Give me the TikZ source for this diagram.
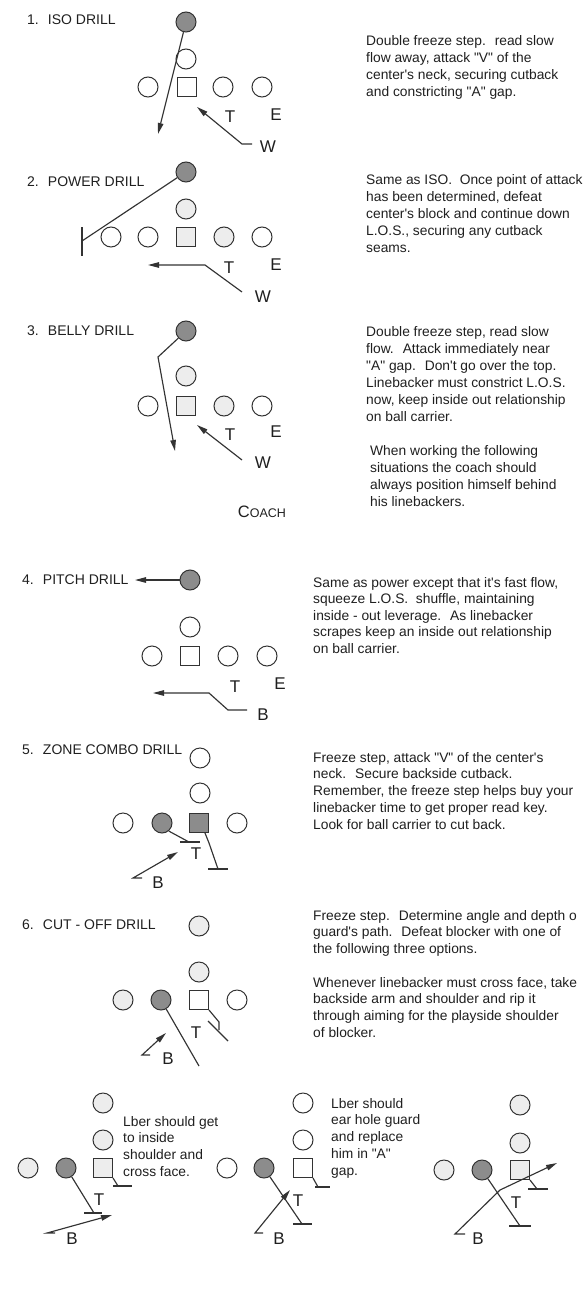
\documentclass[tikz,border=0pt]{standalone}
\usepackage{fontspec}
\setmainfont{Liberation Sans}[Ligatures=TeXOff]
\usetikzlibrary{arrows.meta}
\definecolor{ink}{gray}{0.2}
\definecolor{txt}{gray}{0.12}
\definecolor{shade}{gray}{0.55}
\definecolor{light}{gray}{0.93}
\begin{document}
\begin{tikzpicture}[x=1pt,y=-1pt,
  pl/.style={circle,draw=ink,line width=1pt,minimum size=20pt,inner sep=0pt,fill=white},
  pls/.style={pl,fill=shade},
  pll/.style={pl,fill=light},
  sq/.style={rectangle,draw=ink,line width=1pt,minimum size=19pt,inner sep=0pt,fill=white},
  sql/.style={sq,fill=light},
  sqs/.style={sq,fill=shade},
  route/.style={draw=ink,line width=1.15pt},
  arr/.style={-{Triangle[length=11pt,width=5.5pt]}},
  lbl/.style={font=\fontsize{17}{17}\selectfont,text=txt,inner sep=0pt},
  head/.style={font=\fontsize{14}{17}\selectfont,text=txt,anchor=west,inner sep=0pt},
  para/.style={font=\fontsize{13.8}{17}\selectfont,text=txt,anchor=north west,inner sep=0pt,align=left},
  parb/.style={para,font=\fontsize{13.8}{16.5}\selectfont},
  parc/.style={para,font=\fontsize{13.8}{16.7}\selectfont}
]
\useasboundingbox (0,0) rectangle (586,1300);

% ---------------- 1. ISO DRILL
\node[head] (h1) at (27,20) {1.~ ISO DRILL};
\node[pls] (d1b) at (186,22) {};
\node[pl] (d1q) at (186,59) {};
\node[pl] (d1g) at (148,87) {};
\node[sq] (d1c) at (187,87) {};
\node[pl] (d1t) at (223,87) {};
\node[pl] (d1e) at (262,87) {};
\node[lbl] (d1T) at (230,117) {T};
\node[lbl] (d1E) at (276,115) {E};
\node[lbl] (d1W) at (268,147) {W};
\coordinate (d1a) at (158,134);
\draw[route,arr] (d1b.-104) -- (d1a);
\coordinate (d1w1) at (252,144);
\coordinate (d1w2) at (242,144);
\coordinate (d1w3) at (197,107);
\draw[route,arr] (d1w1) -- (d1w2) -- (d1w3);
\node[para] (p1) at (366,35) {Double freeze step.~ read slow\\flow away, attack "V" of the\\center's neck, securing cutback\\and constricting "A" gap.};

% ---------------- 2. POWER DRILL
\node[head] (h2) at (27,182) {2.~ POWER DRILL};
\node[pls] (d2b) at (186,172) {};
\node[pll] (d2q) at (186,209) {};
\node[pl] (d2a1) at (111,237) {};
\node[pl] (d2g) at (148,237) {};
\node[sql] (d2c) at (186,237) {};
\node[pll] (d2t) at (224,237) {};
\node[pl] (d2e) at (262,237) {};
\coordinate (d2end) at (82,241);
\coordinate (d2bar1) at (82,227);
\coordinate (d2bar2) at (82,256);
\draw[route] (d2b.-147) -- (d2end);
\draw[route] (d2bar1) -- (d2bar2);
\node[lbl] (d2T) at (229,268) {T};
\node[lbl] (d2E) at (276,265) {E};
\node[lbl] (d2W) at (263,297) {W};
\coordinate (d2w1) at (242,292);
\coordinate (d2w2) at (205,265);
\coordinate (d2w3) at (148,265);
\draw[route,arr] (d2w1) -- (d2w2) -- (d2w3);
\node[para] (p2) at (366,174) {Same as ISO.~ Once point of attack\\has been determined, defeat\\center's block and continue down\\L.O.S., securing any cutback\\seams.};

% ---------------- 3. BELLY DRILL
\node[head] (h3) at (27,331) {3.~ BELLY DRILL};
\node[pls] (d3b) at (186,331) {};
\node[pll] (d3q) at (186,376) {};
\node[pl] (d3g) at (148,406) {};
\node[sql] (d3c) at (186,406) {};
\node[pll] (d3t) at (224,406) {};
\node[pl] (d3e) at (262,406) {};
\coordinate (d3m) at (158,357);
\coordinate (d3a) at (175,451);
\draw[route,arr] (d3b.-137) -- (d3m) -- (d3a);
\node[lbl] (d3T) at (230,435) {T};
\node[lbl] (d3E) at (276,432) {E};
\node[lbl] (d3W) at (263,463) {W};
\coordinate (d3w1) at (242,460);
\coordinate (d3w2) at (197,425);
\draw[route,arr] (d3w1) -- (d3w2);
\node[para] (p3) at (366,326) {Double freeze step, read slow\\flow.~ Attack immediately near\\"A" gap.~ Don't go over the top.\\Linebacker must constrict L.O.S.\\now, keep inside out relationship\\on ball carrier.};
\node[text=txt,inner sep=0pt] (coach) at (262,512) {{\fontsize{16.5}{17}\selectfont C}{\fontsize{12.5}{17}\selectfont OACH}};
\node[para] (pc) at (370,445) {When working the following\\situations the coach should\\always position himself behind\\his linebackers.};

% ---------------- 4. PITCH DRILL
\node[head] (h4) at (22,580) {4.~ PITCH DRILL};
\node[pls] (d4b) at (190,580) {};
\coordinate (d4a) at (135,580);
\draw[route,arr] (d4b.west) -- (d4a);
\node[pl] (d4q) at (190,627) {};
\node[pl] (d4g) at (152,656) {};
\node[sq] (d4c) at (190,656) {};
\node[pl] (d4t) at (228,656) {};
\node[pl] (d4e) at (267,656) {};
\node[lbl] (d4T) at (235,687) {T};
\node[lbl] (d4E) at (280,684) {E};
\node[lbl] (d4B) at (263,715) {B};
\coordinate (d4w1) at (247,710);
\coordinate (d4w2) at (228,710);
\coordinate (d4w3) at (209,693);
\coordinate (d4w4) at (153,693);
\draw[route,arr] (d4w1) -- (d4w2) -- (d4w3) -- (d4w4);
\node[parb] (p4) at (313,577) {Same as power except that it's fast flow,\\squeeze L.O.S.~ shuffle, maintaining\\inside - out leverage.~ As linebacker\\scrapes keep an inside out relationship\\on ball carrier.};

% ---------------- 5. ZONE COMBO DRILL
\node[head] (h5) at (22,750) {5.~ ZONE COMBO DRILL};
\node[pl] (d5q1) at (200,758) {};
\node[pl] (d5q2) at (200,793) {};
\node[pl] (d5a) at (123,823) {};
\node[pls] (d5g) at (162,823) {};
\node[sqs] (d5c) at (199,823) {};
\node[pl] (d5t) at (237,823) {};
\node[lbl] (d5T) at (196,854) {T};
\node[lbl] (d5B) at (158,883) {B};
\coordinate (d5ge) at (189,842);
\coordinate (d5gb1) at (180,842);
\coordinate (d5gb2) at (200,842);
\draw[route] (d5g.-50) -- (d5ge);
\draw[route] (d5gb1) -- (d5gb2);
\coordinate (d5cm) at (209,843);
\coordinate (d5ce) at (218,869);
\coordinate (d5cb1) at (208,869);
\coordinate (d5cb2) at (228,869);
\draw[route] ([xshift=-4pt]d5c.south east) -- (d5cm) -- (d5ce);
\draw[route] (d5cb1) -- (d5cb2);
\coordinate (d5w1) at (142,878);
\coordinate (d5w2) at (133,878);
\coordinate (d5w3) at (178,852);
\draw[route,arr] (d5w1) -- (d5w2) -- (d5w3);
\node[parc] (p5) at (313,752) {Freeze step, attack "V" of the center's\\neck.~ Secure backside cutback.\\Remember, the freeze step helps buy your\\linebacker time to get proper read key.\\Look for ball carrier to cut back.};

% ---------------- 6. CUT - OFF DRILL
\node[head] (h6) at (22,925) {6.~ CUT - OFF DRILL};
\node[pll] (d6q1) at (199,926) {};
\node[pll] (d6q2) at (199,972) {};
\node[pll] (d6a) at (123,1000) {};
\node[pls] (d6g) at (161,1000) {};
\node[sq] (d6c) at (199,1000) {};
\node[pl] (d6t) at (237,1000) {};
\node[lbl] (d6T) at (196,1033) {T};
\node[lbl] (d6B) at (168,1059) {B};
\coordinate (d6ge) at (199,1066);
\draw[route] (d6g.-60) -- (d6ge);
\coordinate (d6cm) at (219,1022);
\coordinate (d6ce) at (219,1030);
\draw[route] (d6c.south east) -- (d6cm) -- (d6ce);
\coordinate (d6l1) at (208,1021);
\coordinate (d6l2) at (228,1041);
\draw[route] (d6l1) -- (d6l2);
\coordinate (d6w1) at (150,1055);
\coordinate (d6w2) at (142,1055);
\coordinate (d6w3) at (166,1033);
\draw[route,arr] (d6w1) -- (d6w2) -- (d6w3);
\node[parc] (p6) at (313,910) {Freeze step.~ Determine angle and depth o\\guard's path.~ Defeat blocker with one of\\the following three options.\\[16.7pt]Whenever linebacker must cross face, take\\backside arm and shoulder and rip it\\through aiming for the playside shoulder\\of blocker.};

% ---------------- bottom left
\node[pll] (d7q1) at (103,1103) {};
\node[pll] (d7q2) at (103,1140) {};
\node[pll] (d7a) at (28,1168) {};
\node[pls] (d7g) at (66,1168) {};
\node[sql] (d7c) at (103,1168) {};
\node[lbl] (d7T) at (99,1200) {T};
\node[lbl] (d7B) at (72,1239) {B};
\coordinate (d7ge) at (94,1213);
\coordinate (d7gb1) at (84,1213);
\coordinate (d7gb2) at (102,1213);
\draw[route] (d7g.-57) -- (d7ge);
\draw[route] (d7gb1) -- (d7gb2);
\coordinate (d7ce) at (118,1186);
\coordinate (d7cb1) at (113,1186);
\coordinate (d7cb2) at (132,1186);
\draw[route] (d7c.south east) -- (d7ce);
\draw[route] (d7cb1) -- (d7cb2);
\coordinate (d7w1) at (55,1233);
\coordinate (d7w2) at (47,1233);
\coordinate (d7w3) at (112,1215);
\draw[route,arr] (d7w1) -- (d7w2) -- (d7w3);
\node[parc] (p7) at (123,1116) {Lber should get\\to inside\\shoulder and\\cross face.};

% ---------------- bottom middle
\node[pl] (d8q1) at (303,1103) {};
\node[pl] (d8q2) at (303,1140) {};
\node[pl] (d8a) at (227,1168) {};
\node[pls] (d8g) at (264,1168) {};
\node[sq] (d8c) at (303,1168) {};
\node[lbl] (d8T) at (298,1201) {T};
\node[lbl] (d8B) at (279,1239) {B};
\coordinate (d8ge) at (302,1224);
\coordinate (d8gb1) at (293,1224);
\coordinate (d8gb2) at (312,1224);
\draw[route] (d8g.-56) -- (d8ge);
\draw[route] (d8gb1) -- (d8gb2);
\coordinate (d8ce) at (318,1187);
\coordinate (d8cb1) at (315,1187);
\coordinate (d8cb2) at (330,1187);
\draw[route] (d8c.south east) -- (d8ce);
\draw[route] (d8cb1) -- (d8cb2);
\coordinate (d8w1) at (263,1233);
\coordinate (d8w2) at (255,1233);
\coordinate (d8w3) at (290,1190);
\draw[route,arr] (d8w1) -- (d8w2) -- (d8w3);
\node[parc] (p8) at (331,1098) {Lber should\\ear hole guard\\and replace\\him in "A"\\gap.};

% ---------------- bottom right
\node[pll] (d9q1) at (520,1105) {};
\node[pll] (d9q2) at (520,1143) {};
\node[pll] (d9a) at (444,1170) {};
\node[pls] (d9g) at (482,1170) {};
\node[sql] (d9c) at (520,1170) {};
\node[lbl] (d9T) at (516,1203) {T};
\node[lbl] (d9B) at (478,1239) {B};
\coordinate (d9ge) at (520,1226);
\coordinate (d9gb1) at (509,1226);
\coordinate (d9gb2) at (531,1226);
\draw[route] (d9g.-56) -- (d9ge);
\draw[route] (d9gb1) -- (d9gb2);
\coordinate (d9ce) at (537,1189);
\coordinate (d9cb1) at (528,1189);
\coordinate (d9cb2) at (548,1189);
\draw[route] (d9c.south east) -- (d9ce);
\draw[route] (d9cb1) -- (d9cb2);
\coordinate (d9w1) at (465,1234);
\coordinate (d9w2) at (455,1234);
\coordinate (d9w3) at (500,1190);
\coordinate (d9w4) at (557,1163);
\draw[route,arr] (d9w1) -- (d9w2) -- (d9w3) -- (d9w4);
\end{tikzpicture}
\end{document}
